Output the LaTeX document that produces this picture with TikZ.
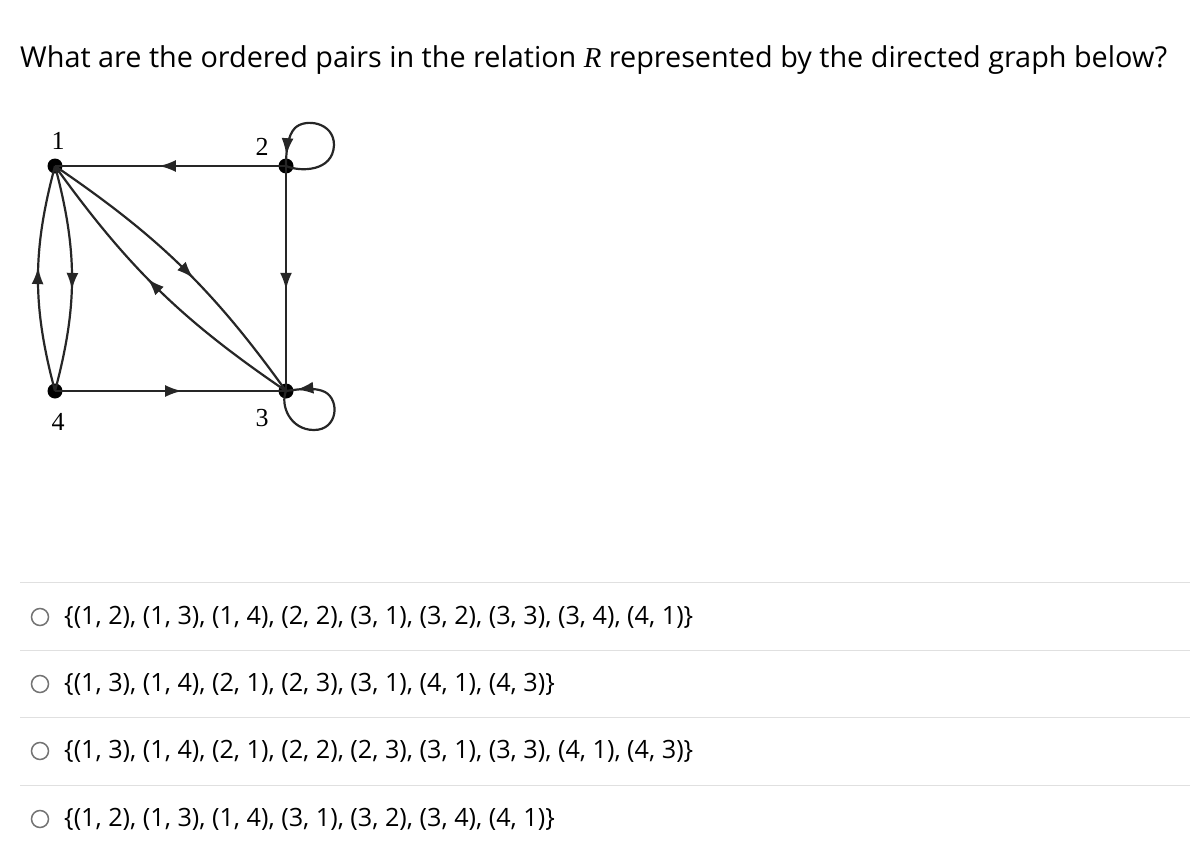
\documentclass[tikz,border=0pt]{standalone}
\usepackage{fontspec}
\setmainfont{Open Sans}
\newfontfamily\serifnum{Liberation Serif}
\usetikzlibrary{decorations.markings,arrows.meta}
\begin{document}
\begin{tikzpicture}[x=1pt,y=-1pt,
  vtx/.style={circle,fill=black,inner sep=0pt,minimum size=15pt},
  edge/.style={line width=2.2pt,color=black!85,postaction={decorate},decoration={markings,mark=at position #1 with {\arrow{Latex[length=17pt,width=12pt]}}}},
  edge/.default=0.55,
  vlab/.style={font=\serifnum\fontsize{26}{26}\selectfont},
  sep/.style={draw=black!12,line width=1pt},
  radio/.style={circle,draw=black!55,line width=1.5pt,minimum size=17pt,inner sep=0pt},
  ans/.style={anchor=west,font=\fontsize{25.2}{28}\selectfont,inner sep=0pt}]
\useasboundingbox (0,0) rectangle (1200,859);
\node[anchor=west,inner sep=0pt,font=\fontsize{28.8}{32}\selectfont] (q) at (20,60) {What are the ordered pairs in the relation {\serifnum\itshape R} represented by the directed graph below?};
\node[vtx] (n1) at (55,166) {};
\node[vtx] (n2) at (286,166) {};
\node[vtx] (n3) at (286,391) {};
\node[vtx] (n4) at (55,391) {};
\node[vlab] (l1) at (58,141) {1};
\node[vlab] (l2) at (262,147) {2};
\node[vlab] (l3) at (262,418) {3};
\node[vlab] (l4) at (58,422) {4};
\draw[edge] (n2.center) -- (n1.center);
\draw[edge] (n2.center) -- (n3.center);
\draw[edge] (n4.center) -- (n3.center);
\draw[edge] (n1.center) to[bend left=15] (n4.center);
\draw[edge] (n4.center) to[bend left=15] (n1.center);
\draw[edge] (n1.center) to[bend left=10] (n3.center);
\draw[edge] (n3.center) to[bend left=10] (n1.center);
\draw[edge=0.93] (n2.center) .. controls (300,172) and (333,172) .. (334,145) .. controls (334,122) and (305,118) .. (295,128) .. controls (288,135) and (286,150) .. (n2.center);
\draw[edge=0.93] (n3.center) .. controls (280,405) and (290,430) .. (314,430) .. controls (338,430) and (340,400) .. (325,392) .. controls (315,387) and (300,389) .. (n3.center);
\draw[sep] (20,582) -- (1190,582);
\draw[sep] (20,650) -- (1190,650);
\draw[sep] (20,717) -- (1190,717);
\draw[sep] (20,785) -- (1190,785);
\node[radio] (r1) at (40,617) {};
\node[radio] (r2) at (40,684) {};
\node[radio] (r3) at (40,751) {};
\node[radio] (r4) at (40,819) {};
\node[ans] (a1) at (64,617) {\{(1, 2), (1, 3), (1, 4), (2, 2), (3, 1), (3, 2), (3, 3), (3, 4), (4, 1)\}};
\node[ans] (a2) at (64,684) {\{(1, 3), (1, 4), (2, 1), (2, 3), (3, 1), (4, 1), (4, 3)\}};
\node[ans] (a3) at (64,751) {\{(1, 3), (1, 4), (2, 1), (2, 2), (2, 3), (3, 1), (3, 3), (4, 1), (4, 3)\}};
\node[ans] (a4) at (64,819) {\{(1, 2), (1, 3), (1, 4), (3, 1), (3, 2), (3, 4), (4, 1)\}};
\end{tikzpicture}
\end{document}
